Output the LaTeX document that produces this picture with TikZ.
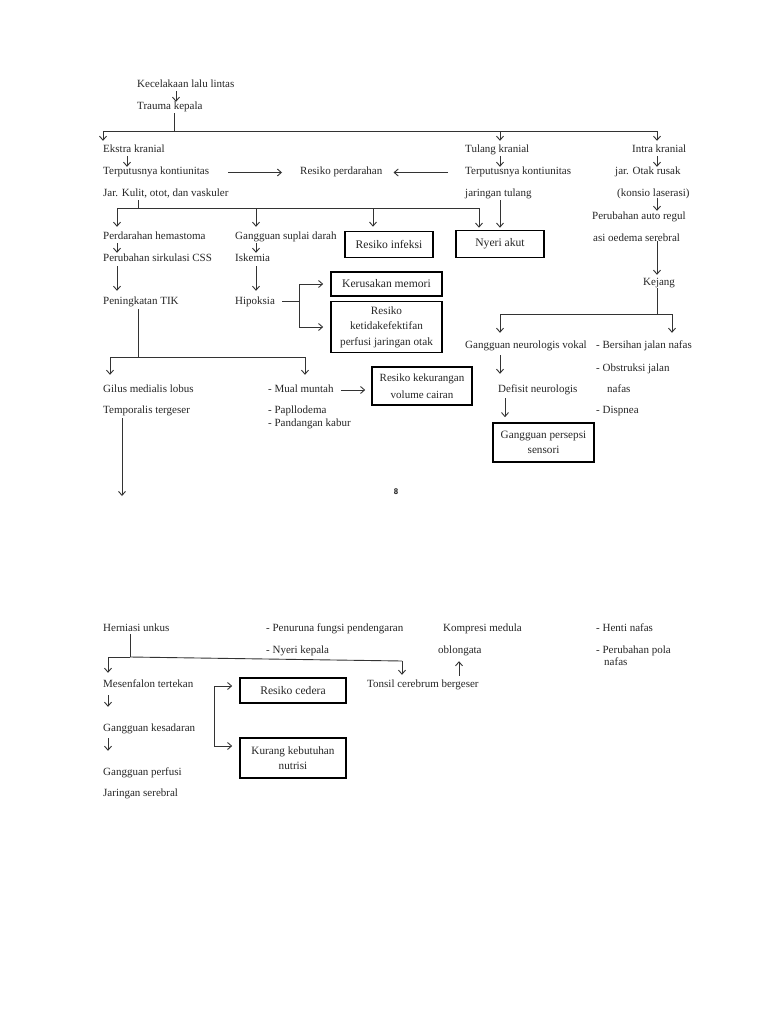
\documentclass[tikz,border=0pt]{standalone}
\usepackage{fontspec}
\setmainfont{Liberation Serif}
\usetikzlibrary{arrows.meta,calc}
\newcommand{\fsA}{\fontsize{11}{13}\selectfont}
\newcommand{\fsB}{\fontsize{11.6}{15.5}\selectfont}
\newcommand{\fsC}{\fontsize{11.2}{15.5}\selectfont}
\begin{document}
\begin{tikzpicture}[x=1pt,y=-1pt,
  txt/.style={anchor=base west,yshift=-4pt,inner sep=0pt,text height=8pt,text depth=3pt,font=\fsA,text=black!85},
  box/.style={draw,line width=1.6pt,align=center,inner sep=0pt,font=\fsB,text=black!85},
  box2/.style={box,font=\fsC},
  ln/.style={line width=0.9pt,draw=black!80},
  arr/.style={ln,-{Straight Barb[length=4pt,width=7pt]}}]
\useasboundingbox (0,0) rectangle (768,1024);
\fill[white] (0,0) rectangle (768,1024);
% x positions used by vertical connectors
\coordinate (x103) at (103,0);
\coordinate (x108) at (108,0);
\coordinate (x110) at (110,0);
\coordinate (x117) at (117,0);
\coordinate (x122) at (122,0);
\coordinate (x127) at (127,0);
\coordinate (x176) at (176,0);
\coordinate (x256) at (256,0);
\coordinate (x305) at (305,0);
\coordinate (x373) at (373,0);
\coordinate (x402) at (402,0);
\coordinate (x459) at (459,0);
\coordinate (x479) at (479,0);
\coordinate (x500) at (500,0);
\coordinate (x505) at (505,0);
\coordinate (x657) at (657,0);
\coordinate (x672) at (672,0);
% ---------- top page ----------
\node[txt] (kec) at (137,84) {Kecelakaan lalu lintas};
\node[txt] (trauma) at (137,106) {Trauma kepala};
\node[txt] (ekstra) at (103,149) {Ekstra kranial};
\node[txt] (terp1) at (103,171) {Terputusnya kontiunitas};
\node[txt] (jar) at (103,193) {Jar. Kulit, otot, dan vaskuler};
\node[txt] (rperd) at (300,171) {Resiko perdarahan};
\node[txt] (tulang) at (465,149) {Tulang kranial};
\node[txt] (terp2) at (465,171) {Terputusnya kontiunitas};
\node[txt] (jartul) at (465,193) {jaringan tulang};
\node[txt] (intra) at (632,149) {Intra kranial};
\node[txt] (otak) at (615,171) {jar. Otak rusak};
\node[txt] (konsio) at (617,193) {(konsio laserasi)};
\node[txt] (auto1) at (592,215) {Perubahan auto regul};
\node[txt] (auto2) at (593,237) {asi oedema serebral};
\node[txt] (kejang) at (643,281) {Kejang};
\node[txt] (perd) at (103,236) {Perdarahan hemastoma};
\node[txt] (sirk) at (103,257) {Perubahan sirkulasi CSS};
\node[txt] (tik) at (103,300) {Peningkatan TIK};
\node[txt] (suplai) at (235,236) {Gangguan suplai darah};
\node[txt] (iskemia) at (235,257) {Iskemia};
\node[txt] (hipoksia) at (235,300) {Hipoksia};
\node[box,minimum width=88pt,minimum height=26pt] (infeksi) at (389,244.5) {Resiko infeksi};
\node[box,minimum width=88pt,minimum height=27pt] (nyeri) at (500,244) {Nyeri akut};
\node[box,minimum width=111pt,minimum height=24pt] (memori) at (386.5,284) {Kerusakan memori};
\node[box2,minimum width=111pt,minimum height=51pt] (perfusi) at (386.5,327) {Resiko\\ketidakefektifan\\perfusi jaringan otak};
\node[txt] (gilus) at (103,388) {Gilus medialis lobus};
\node[txt] (temporalis) at (103,409) {Temporalis tergeser};
\node[txt] (mual) at (268,388) {- Mual muntah};
\node[txt] (papil) at (268,409) {- Papllodema};
\node[txt] (kabur) at (268,422) {- Pandangan kabur};
\node[box,minimum width=100pt,minimum height=38pt,font=\fontsize{11}{17}\selectfont] (cairan) at (422,386) {Resiko kekurangan\\volume cairan};
\node[txt] (gnv) at (465,344) {Gangguan neurologis vokal};
\node[txt] (defisit) at (498,388) {Defisit neurologis};
\node[txt] (bersihan) at (596,344) {- Bersihan jalan nafas};
\node[txt] (obstruksi) at (596,367) {- Obstruksi jalan};
\node[txt] (nafas1) at (607,388) {nafas};
\node[txt] (dispnea) at (596,409) {- Dispnea};
\node[box2,minimum width=101pt,minimum height=39pt] (persepsi) at (543.5,442.5) {Gangguan persepsi\\sensori};
\node[inner sep=0pt,font=\sffamily\bfseries\fontsize{8}{9}\selectfont] (page) at (396,492) {8};
\coordinate (cont) at (122,496);
% connectors top
\draw[arr] (kec.south -| x176) -- (trauma.north -| x176);
\coordinate (h1) at (174,131);
\draw[ln] (trauma.south -| h1) -- (h1);
\draw[arr,shorten >=4pt] (h1) -| (ekstra.north -| x103);
\draw[arr,shorten >=4pt] (h1) -| (tulang.north -| x500);
\draw[arr,shorten >=4pt] (h1) -| (intra.north -| x657);
\draw[arr] (ekstra.south -| x127) -- (terp1.north -| x127);
\draw[arr] ([xshift=19pt]terp1.east) -- ([xshift=-18pt]rperd.west);
\draw[arr] ([xshift=-17pt]terp2.west) -- ([xshift=11pt]rperd.east);
\draw[arr] (tulang.south -| x500) -- (terp2.north -| x500);
\draw[arr,shorten >=2pt] (jartul.south -| x500) -- (nyeri.north -| x500);
\draw[arr] (intra.south -| x657) -- (otak.north -| x657);
\draw[arr,shorten <=-2pt] (konsio.south -| x657) -- (auto1.north -| x657);
\draw[arr,shorten <=-3pt,shorten >=2pt] (auto2.south -| x657) -- (kejang.north -| x657);
\coordinate (h2) at (138,208);
\draw[ln] (jar.south -| h2) -- (h2);
\draw[arr,shorten >=5pt] (h2) -| (perd.north -| x117);
\draw[arr,shorten >=5pt] (h2) -| (suplai.north -| x256);
\draw[arr,shorten >=4pt] (h2) -| (infeksi.north -| x373);
\draw[arr,shorten >=2pt] (h2) -| (nyeri.north -| x479);
\draw[arr] (perd.south -| x117) -- (sirk.north -| x117);
\draw[arr] (suplai.south -| x256) -- (iskemia.north -| x256);
\draw[arr,shorten <=2pt,shorten >=5pt] (sirk.south -| x117) -- (tik.north -| x117);
\draw[arr,shorten <=2pt,shorten >=5pt] (iskemia.south -| x256) -- (hipoksia.north -| x256);
\coordinate (bk) at (299,301);
\draw[ln] ([xshift=7pt]hipoksia.east |- bk) -- (bk);
\draw[arr,shorten >=7pt] (bk) |- (memori.west);
\draw[arr,shorten >=7pt] (bk) |- (perfusi.west);
\coordinate (h3) at (138,357);
\draw[ln] ([yshift=-2pt]tik.south -| h3) -- (h3);
\draw[arr,shorten >=9pt] (h3) -| (gilus.north -| x110);
\draw[arr,shorten >=9pt] (h3) -| (mual.north -| x305);
\draw[arr,shorten <=2pt] (temporalis.south -| x122) -- (cont);
\draw[arr] ([xshift=7pt]mual.east |- 0,390) -- ([xshift=-6pt]cairan.west |- 0,390);
\coordinate (h4) at (657,314);
\draw[ln] (kejang.south -| h4) -- (h4);
\draw[arr,shorten >=7pt] (h4) -| (gnv.north -| x500);
\draw[arr,shorten >=7pt] (h4) -| (bersihan.north -| x672);
\draw[arr,shorten <=4pt,shorten >=10pt] (gnv.south -| x500) -- (defisit.north -| x500);
\draw[arr,shorten <=3pt,shorten >=5pt] (defisit.south -| x505) -- (persepsi.north -| x505);
% ---------- bottom page ----------
\node[txt] (herniasi) at (103,627) {Herniasi unkus};
\node[txt] (mesen) at (103,683) {Mesenfalon tertekan};
\node[txt] (kesadaran) at (103,727) {Gangguan kesadaran};
\node[txt] (gperfusi) at (103,771) {Gangguan perfusi};
\node[txt] (serebral) at (103,792) {Jaringan serebral};
\node[txt] (penuruna) at (266,627) {- Penuruna fungsi pendengaran};
\node[txt] (nkepala) at (266,649) {- Nyeri kepala};
\node[txt] (kompresi) at (443,627) {Kompresi medula};
\node[txt] (oblongata) at (438,649) {oblongata};
\node[txt] (tonsil) at (367,683) {Tonsil cerebrum bergeser};
\node[txt] (henti) at (596,627) {- Henti nafas};
\node[txt] (pola) at (596,649) {- Perubahan pola};
\node[txt] (nafas2) at (604,661) {nafas};
\node[box,minimum width=106pt,minimum height=25pt] (cedera) at (293,690.5) {Resiko cedera};
\node[box2,minimum width=106pt,minimum height=40pt] (kurang) at (293,758) {Kurang kebutuhan\\nutrisi};
\coordinate (h5) at (130,657);
\coordinate (h5r) at (402,661);
\draw[ln] (herniasi.south -| h5) -- (h5);
\draw[arr,shorten >=6pt] (h5) -| (mesen.north -| x108);
\draw[ln] (h5) -- (h5r);
\draw[arr,shorten >=4pt] (h5r) -- (tonsil.north -| x402);
\draw[arr,shorten <=5pt,shorten >=16pt] (mesen.south -| x108) -- (kesadaran.north -| x108);
\draw[arr,shorten <=4pt,shorten >=16pt] (kesadaran.south -| x108) -- (gperfusi.north -| x108);
\draw[arr,shorten <=3pt,shorten >=5pt] (tonsil.north -| x459) -- (oblongata.south -| x459);
\coordinate (bk2a) at (214,686);
\coordinate (bk2b) at (214,746);
\draw[ln] (bk2a) -- (bk2b);
\draw[arr,shorten >=7pt] (bk2a) -- (cedera.west |- bk2a);
\draw[arr,shorten >=7pt] (bk2b) -- (kurang.west |- bk2b);
\end{tikzpicture}
\end{document}
